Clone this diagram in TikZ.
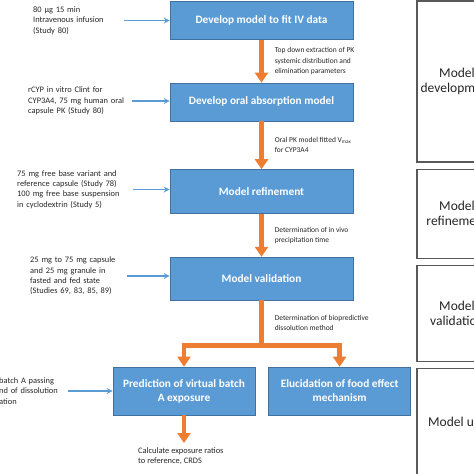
\documentclass[tikz,border=0pt]{standalone}
\usepackage{fontspec}
\setmainfont{Carlito}
\usetikzlibrary{positioning,arrows.meta}
\definecolor{stageblue}{HTML}{5B9BD5}
\definecolor{stageedge}{HTML}{41719C}
\definecolor{flowc}{HTML}{ED7D31}
\definecolor{phaseedge}{HTML}{595959}
\definecolor{inktext}{HTML}{262626}
\tikzset{
  stagebox/.style={draw=stageedge, line width=0.6pt, fill=stageblue, text=white, align=center,
              inner sep=0pt, minimum width=183pt, font=\fontsize{11.3}{14}\selectfont\bfseries},
  phasebox/.style={draw=phaseedge, line width=1.1pt, fill=white, align=center,
              minimum width=80pt, text=inktext, font=\fontsize{13.5}{15.5}\selectfont},
  inputtext/.style={anchor=west, align=left, inner sep=0pt, text=inktext,
              font=\fontsize{8.4}{10.4}\selectfont},
  steptext/.style={align=left, inner sep=0pt, text=inktext, font=\fontsize{7.5}{10.3}\selectfont},
  flow/.style={draw=flowc, line width=4.5pt, -{Triangle[width=13pt,length=10pt]}},
  flowline/.style={draw=flowc, line width=4.5pt},
  feed/.style={draw=stageblue, line width=1.3pt, -{Stealth[length=6pt,width=6pt]}},
}
\begin{document}
\begin{tikzpicture}[x=1pt, y=-1pt]
\useasboundingbox (0,0) rectangle (474,474);

% main column
\node[stagebox, minimum height=38pt, anchor=north] (fitiv) at (261.5,1) {Develop model to fit IV data};
\node[stagebox, minimum height=38pt, below=43pt of fitiv] (oral) {Develop oral absorption model};
\node[stagebox, minimum height=44pt, below=48pt of oral] (refine) {Model refinement};
\node[stagebox, minimum height=43pt, below=43pt of refine] (valid) {Model validation};
\node[stagebox, minimum width=142pt, minimum height=48pt] (pred) at (184,391) {Prediction of virtual batch\\A exposure};
\node[stagebox, minimum width=142pt, minimum height=48pt, right=13pt of pred] (food) {Elucidation of food effect\\mechanism};

\draw[flow] (fitiv) -- node[steptext, right=11pt] {Top down extraction of PK\\systemic distribution and\\elimination parameters} (oral);
\draw[flow] (oral) -- node[steptext, right=11pt] {Oral PK model fitted V\textsubscript{max}\\for CYP3A4} (refine);
\draw[flow] (refine) -- node[steptext, right=11pt] {Determination of in vivo\\precipitation time} (valid);
\draw[flowline] (valid.south) -- node[steptext, right=11pt] {Determination of biopredictive\\dissolution method} ++(0,45) coordinate (split);
\draw[flow] (split) -| (pred.north);
\draw[flow] (split) -| (food.north);

\node[inputtext, anchor=north west] (ratio) at (138,447) {Calculate exposure ratios\\to reference, CRDS};
\draw[flow, shorten >=4pt] (pred.south) -- (pred.south |- ratio.north);

% data going in
\node[inputtext, text width=91pt] (ivdose) at (33,20.5) {80 µg 15 min\\Intravenous infusion\\(Study 80)};
\node[inputtext, text width=104pt] (oraldata) at (28,101) {rCYP in vitro Clint for\\CYP3A4, 75 mg human oral\\capsule PK (Study 80)};
\node[inputtext, text width=116pt] (refdata) at (17,189.5) {75 mg free base variant and\\reference capsule (Study 78)\\100 mg free base suspension\\in cyclodextrin (Study 5)};
\node[inputtext, text width=97pt] (valdata) at (30,276) {25 mg to 75 mg capsule\\and 25 mg granule in\\fasted and fed state\\(Studies 69, 83, 85, 89)};
\node[inputtext, text width=69pt] (batchin) at (-1,391) {batch A passing\\nd of dissolution\\ation};
\draw[feed] (ivdose.east) -- (ivdose.east -| fitiv.west);
\draw[feed] (oraldata.east) -- (oraldata.east -| oral.west);
\draw[feed] (refdata.east) -- (refdata.east -| refine.west);
\draw[feed] (valdata.east) -- (valdata.east -| valid.west);
\draw[feed] (batchin.east) -- (batchin.east -| pred.west);

% phases on the right
\begin{scope}
\clip (0,0) rectangle (474,474);
\node[phasebox, minimum height=161pt] (pdev) at (457,81.5) {Model\\development};
\node[phasebox, minimum height=89pt, below=6pt of pdev] (pref) {Model\\refinement};
\node[phasebox, minimum height=96pt, below=6pt of pref] (pval) {Model\\validation};
\node[phasebox, minimum height=107pt, below=6pt of pval] (puse) {Model use};
\end{scope}
\end{tikzpicture}
\end{document}
